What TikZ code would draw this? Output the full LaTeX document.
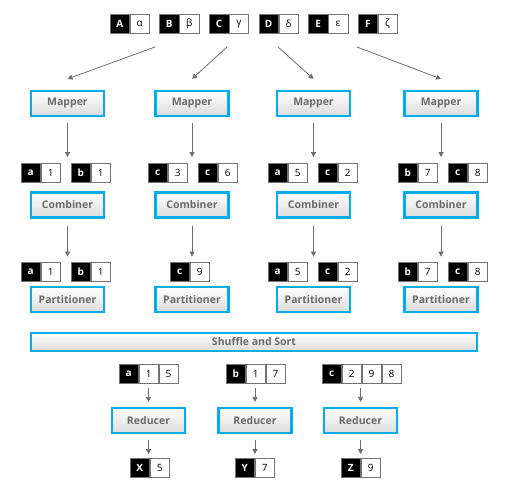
\documentclass[tikz,border=0pt]{standalone}
\usepackage{fontspec}
\setmainfont{Open Sans}
\usetikzlibrary{positioning,arrows.meta}
\definecolor{boxblue}{HTML}{00AEEF}
\definecolor{linegray}{HTML}{6E6E6E}
\definecolor{textgray}{HTML}{6A6A6A}
\tikzset{
  stagebox/.style={draw=boxblue, line width=2.2pt, top color=white, bottom color=black!14,
    minimum width=73pt, minimum height=25pt, inner sep=0pt, text=textgray,
    font=\fontsize{10.5}{12}\selectfont\bfseries},
  keycell/.style={draw=black!55, fill=black, text=white, minimum width=19.5pt,
    minimum height=19pt, inner sep=0pt, font=\fontsize{10}{11}\selectfont\bfseries},
  valcell/.style={keycell, fill=white, text=black, font=\fontsize{10}{11}\selectfont},
  flow/.style={draw=linegray, line width=0.8pt, -{Triangle[width=5pt,length=5pt]}},
}
% key cell followed by value cells: name, left edge, y, key, values
\newcommand{\kvlist}[5]{%
  \node[keycell] (#1-0) at ({#2+9.75},#3) {#4};
  \foreach \v [count=\j, remember=\j as \p (initially 0)] in {#5}
    \node[valcell, right=0pt of #1-\p] (#1-\j) {\v};
}
\begin{document}
\begin{tikzpicture}[x=1pt,y=-1pt]
  \useasboundingbox (0,0) rectangle (510,492);
  % input splits
  \foreach \k/\val [count=\i from 0] in {A/α,B/β,C/γ,D/δ,E/ε,F/ζ}
    {\kvlist{in\i}{110+49.6*\i}{24}{\k}{\val}}
  % map side
  \foreach \x [count=\i] in {67.5,192,313.5,441} {
    \node[stagebox] (map\i) at (\x,103.5) {Mapper};
    \node[stagebox] (comb\i) at (\x,205) {Combiner};
    \node[stagebox] (part\i) at (\x,299.5) {Partitioner};
    \draw[flow, shorten <=6pt] (map\i.south) -- ++(0,40);
    \draw[flow, shorten <=7pt] (comb\i.south) -- ++(0,38);
  }
  \coordinate (s1) at (155,47);
  \coordinate (s2) at (227,47);
  \coordinate (s3) at (278,47);
  \coordinate (s4) at (357,47);
  \foreach \i in {1,...,4}
    \draw[flow] (s\i) -- ([yshift=11pt]map\i.north);
  % mapper output
  \kvlist{ma1}{21}{173}{a}{1}
  \kvlist{mb1}{71}{173}{b}{1}
  \kvlist{ma2}{148}{173}{c}{3}
  \kvlist{mb2}{198}{173}{c}{6}
  \kvlist{ma3}{268}{173}{a}{5}
  \kvlist{mb3}{318}{173}{c}{2}
  \kvlist{ma4}{398}{173}{b}{7}
  \kvlist{mb4}{448}{173}{c}{8}
  % combiner output
  \kvlist{ca1}{21}{272}{a}{1}
  \kvlist{cb1}{71}{272}{b}{1}
  \kvlist{ca2}{170}{272}{c}{9}
  \kvlist{ca3}{268}{272}{a}{5}
  \kvlist{cb3}{318}{272}{c}{2}
  \kvlist{ca4}{398}{272}{b}{7}
  \kvlist{cb4}{448}{272}{c}{8}
  \node[stagebox, minimum width=446pt, minimum height=18pt] (shuffle) at (254,342) {Shuffle and Sort};
  % reduce side
  \kvlist{ra}{119}{374}{a}{1,5}
  \kvlist{rb}{226}{374}{b}{1,7}
  \kvlist{rc}{322}{374}{c}{2,9,8}
  \foreach \x [count=\i] in {148.5,255,360.5} {
    \node[stagebox] (red\i) at (\x,420.5) {Reducer};
    \draw[flow] ([yshift=19pt]red\i.north) -- ([yshift=5pt]red\i.north);
    \draw[flow] ([yshift=-6pt]red\i.south) -- ([yshift=-20pt]red\i.south);
  }
  \kvlist{outx}{130}{468}{X}{5}
  \kvlist{outy}{235}{468}{Y}{7}
  \kvlist{outz}{341}{468}{Z}{9}
\end{tikzpicture}
\end{document}
